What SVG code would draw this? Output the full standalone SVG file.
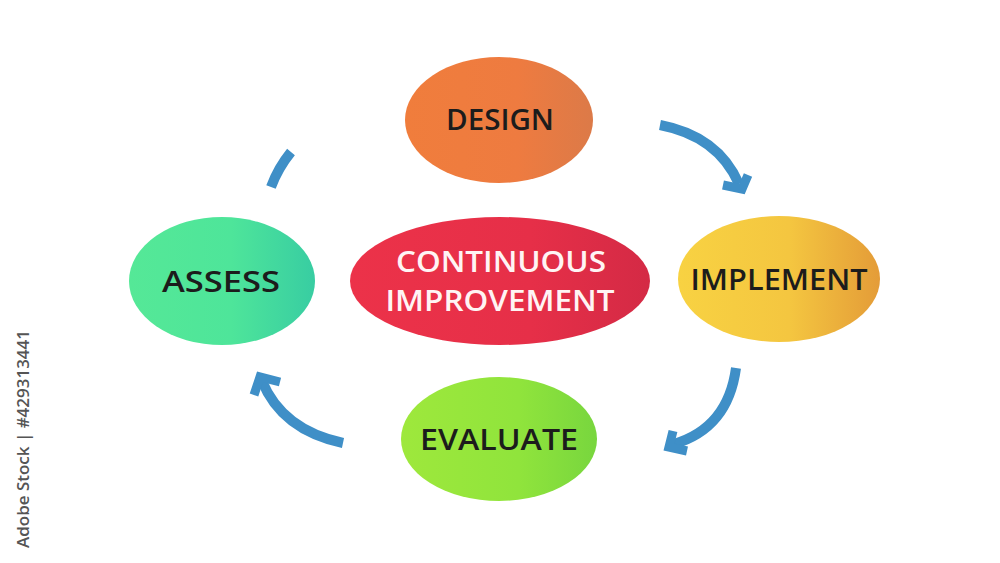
<svg xmlns="http://www.w3.org/2000/svg" width="1000" height="563" viewBox="0 0 1000 563">
<defs>
<linearGradient id="gDesign" x1="0" y1="0" x2="1" y2="0"><stop offset="0" stop-color="#f07d3c"/><stop offset="0.6" stop-color="#ee7b40"/><stop offset="1" stop-color="#dc7a48"/></linearGradient>
<linearGradient id="gAssess" x1="0" y1="0" x2="1" y2="0"><stop offset="0" stop-color="#55e897"/><stop offset="0.55" stop-color="#4ee59a"/><stop offset="1" stop-color="#38cda2"/></linearGradient>
<linearGradient id="gImpl" x1="0" y1="0" x2="1" y2="0"><stop offset="0" stop-color="#f8d242"/><stop offset="0.55" stop-color="#f4c640"/><stop offset="1" stop-color="#e49c38"/></linearGradient>
<linearGradient id="gEval" x1="0" y1="0" x2="1" y2="0"><stop offset="0" stop-color="#9ee83c"/><stop offset="0.6" stop-color="#90e43c"/><stop offset="1" stop-color="#78d63e"/></linearGradient>
<linearGradient id="gCI" x1="0" y1="0" x2="1" y2="0"><stop offset="0" stop-color="#ec3249"/><stop offset="0.6" stop-color="#e62f48"/><stop offset="1" stop-color="#d42a45"/></linearGradient>
</defs>
<style>
.lbl{font-family:"Open Sans","DejaVu Sans",sans-serif;font-weight:600;fill:#1c1c1c;text-anchor:middle}
.ci{font-family:"Open Sans","DejaVu Sans",sans-serif;font-weight:600;fill:#fff4f4;text-anchor:middle}
.arc{fill:none;stroke:#3f8fc7;stroke-width:10}
.head{fill:none;stroke:#3f8fc7;stroke-width:9;stroke-linejoin:miter;stroke-linecap:butt}
.wm{font-family:"Open Sans","DejaVu Sans",sans-serif;font-weight:600;fill:#555;font-size:17px}
</style>
<rect width="1000" height="563" fill="#ffffff"/>
<g id="connectors">
<path class="arc" d="M660,125 Q718,136 739,184"/>
<polyline class="head" points="723,185 742,189 748,175"/>
<path class="arc" d="M736,368 Q728,428 674,444"/>
<polyline class="head" points="673,431 669,447 687,451"/>
<path class="arc" d="M343,443 Q282,430 262,381"/>
<polyline class="head" points="280,382 260,377 254,395"/>
<path class="arc" d="M291,152 Q278,168 271,187"/>
</g>
<g id="design">
<ellipse cx="499" cy="120" rx="94" ry="63" fill="url(#gDesign)"/>
<text class="lbl" x="500" y="130" font-size="29" textLength="108" lengthAdjust="spacingAndGlyphs">DESIGN</text>
</g>
<g id="assess">
<ellipse cx="222" cy="281" rx="93" ry="64" fill="url(#gAssess)"/>
<text class="lbl" x="221" y="292" font-size="29" textLength="118" lengthAdjust="spacingAndGlyphs">ASSESS</text>
</g>
<g id="implement">
<ellipse cx="779" cy="279" rx="101" ry="63" fill="url(#gImpl)"/>
<text class="lbl" x="779" y="290" font-size="29" textLength="177" lengthAdjust="spacingAndGlyphs">IMPLEMENT</text>
</g>
<g id="evaluate">
<ellipse cx="499" cy="439" rx="98" ry="62" fill="url(#gEval)"/>
<text class="lbl" x="499" y="450" font-size="29" textLength="158" lengthAdjust="spacingAndGlyphs">EVALUATE</text>
</g>
<g id="continuous-improvement">
<ellipse cx="500" cy="281" rx="150" ry="64" fill="url(#gCI)"/>
<text class="ci" x="501" y="272" font-size="28" textLength="210" lengthAdjust="spacingAndGlyphs">CONTINUOUS</text>
<text class="ci" x="500" y="311" font-size="28" textLength="229" lengthAdjust="spacingAndGlyphs">IMPROVEMENT</text>
</g>
<text class="wm" transform="translate(29,548) rotate(-90)" textLength="218" lengthAdjust="spacingAndGlyphs">Adobe Stock | #429313441</text>
</svg>
